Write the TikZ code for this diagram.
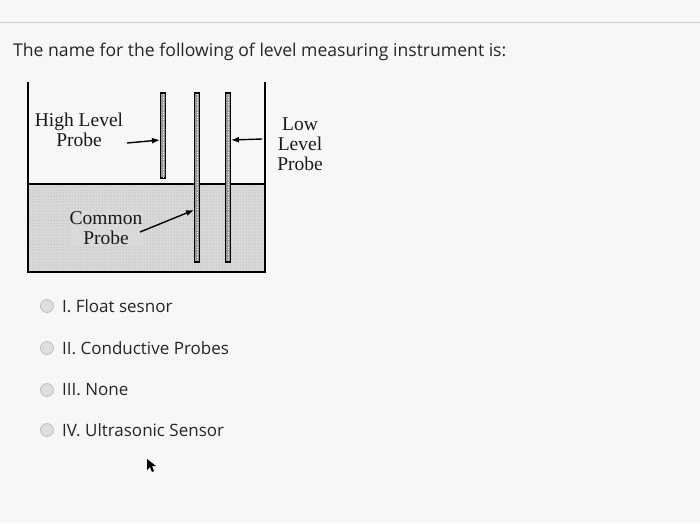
\documentclass[tikz,border=0pt]{standalone}
\usepackage{fontspec}
\setmainfont{Open Sans}
\newfontfamily\serifl{Liberation Serif}
\usetikzlibrary{patterns,arrows.meta}
\begin{document}
\begin{tikzpicture}[x=1pt,y=-1pt,
  lbl/.style={font=\serifl\fontsize{19.5}{20}\selectfont,align=center,inner sep=0,text=black!90},
  probe/.style={draw=black,line width=1.4pt,fill=gray!80},
  ptr/.style={-{Latex[length=8pt,width=6pt]},line width=1.4pt},
  radio/.style={draw=gray!50,fill=gray!25,line width=0.8pt},
  opt/.style={font=\fontsize{17}{19}\selectfont,anchor=west,inner sep=0,text=black!85}]
\useasboundingbox[fill=gray!6] (0,0) rectangle (700,523);
\draw[gray!40,line width=0.8pt] (0,22) -- (700,22);
\node[anchor=west,inner sep=0,font=\fontsize{17.6}{19}\selectfont,text=black!85] (q) at (13,52) {The name for the following of level measuring instrument is:};
% liquid
\fill[gray!30] (28,184) rectangle (265,272);
\fill[pattern=dots,pattern color=gray!70] (28,184) rectangle (265,272);
\draw[line width=1.2pt] (28,82) -- (28,272) -- (265,272) -- (265,82);
\draw[line width=1.2pt] (28,184) -- (265,184);
% probes
\draw[probe] (160.5,93) rectangle (165.5,178);
\draw[white,line width=1pt,dash pattern=on 1pt off 1.5pt] (163,94) -- (163,177);
\draw[probe] (194.5,93) rectangle (199.5,262);
\draw[white,line width=1pt,dash pattern=on 1pt off 1.5pt] (197,94) -- (197,261);
\draw[probe] (225.5,93) rectangle (230.5,262);
\draw[white,line width=1pt,dash pattern=on 1pt off 1.5pt] (228,94) -- (228,261);
\coordinate (hp) at (160,140);
\coordinate (cp) at (194,210);
\coordinate (lp) at (231,140);
\node[lbl] (hl) at (79,130) {High Level\\Probe};
\node[lbl] (ll) at (300,144) {Low\\Level\\Probe};
\node[lbl,fill=gray!30] (cl) at (106,228) {Common\\Probe};
\draw[ptr] (127,143) -- (hp);
\draw[ptr] (262,139) -- (lp);
\draw[ptr] (140,232) -- (cp);
% options
\foreach \y/\t [count=\i] in {306/I. Float sesnor,348/II. Conductive Probes,390/III. None,430/IV. Ultrasonic Sensor}{
  \node[radio,circle,minimum size=13pt,inner sep=0] (r\i) at (47,\y) {};
  \node[opt] (o\i) at (62,\y) {\t};
}
\fill[black] (147,459) -- (147,470) -- (150,467) -- (152,472) -- (154,471) -- (152,466) -- (156,466) -- cycle;
\end{tikzpicture}
\end{document}
